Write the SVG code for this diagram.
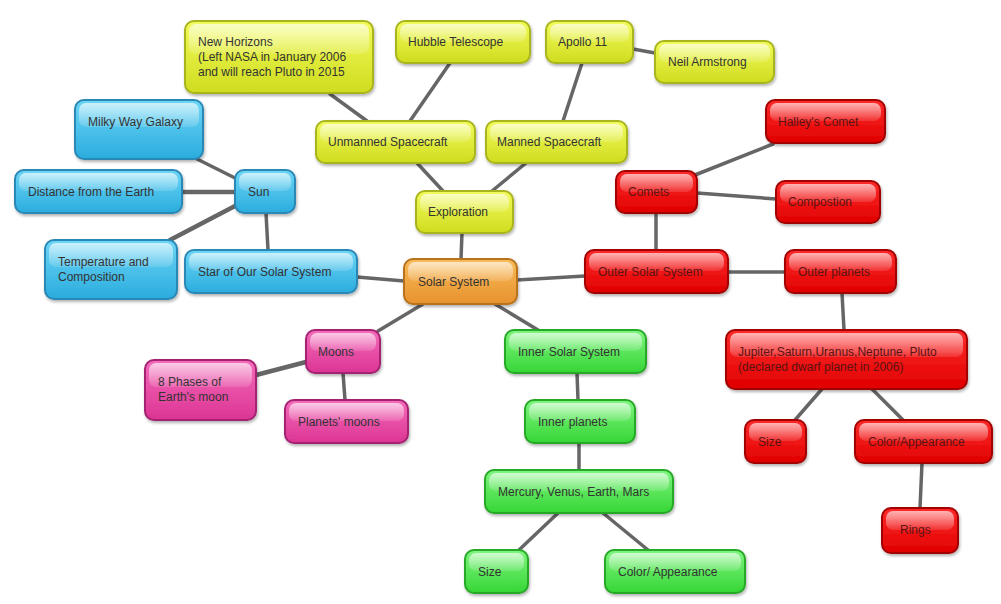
<svg xmlns="http://www.w3.org/2000/svg" width="1001" height="604" viewBox="0 0 1001 604">
<defs>
<linearGradient id="gY" x1="0" y1="0" x2="0" y2="1"><stop offset="0" stop-color="#f2fb5c"/><stop offset="1" stop-color="#cfdc1e"/></linearGradient>
<linearGradient id="gB" x1="0" y1="0" x2="0" y2="1"><stop offset="0" stop-color="#6ed6f6"/><stop offset="1" stop-color="#2aacde"/></linearGradient>
<linearGradient id="gR" x1="0" y1="0" x2="0" y2="1"><stop offset="0" stop-color="#ff2a2a"/><stop offset="1" stop-color="#e00000"/></linearGradient>
<linearGradient id="gO" x1="0" y1="0" x2="0" y2="1"><stop offset="0" stop-color="#f8bb5a"/><stop offset="1" stop-color="#e8922e"/></linearGradient>
<linearGradient id="gG" x1="0" y1="0" x2="0" y2="1"><stop offset="0" stop-color="#7ff57f"/><stop offset="1" stop-color="#36d636"/></linearGradient>
<linearGradient id="gP" x1="0" y1="0" x2="0" y2="1"><stop offset="0" stop-color="#f46cba"/><stop offset="1" stop-color="#dc3494"/></linearGradient>
<linearGradient id="gH" x1="0" y1="0" x2="0" y2="1"><stop offset="0" stop-color="#fff" stop-opacity="0.65"/><stop offset="1" stop-color="#fff" stop-opacity="0.12"/></linearGradient>
<filter id="sh" x="-10%" y="-10%" width="125%" height="135%"><feDropShadow dx="1" dy="2" stdDeviation="1.5" flood-color="#000" flood-opacity="0.3"/></filter>
</defs>
<style>
.n rect.b{stroke-width:2;filter:url(#sh)}
.y rect.b{fill:url(#gY);stroke:#a9b51c}
.bl rect.b{fill:url(#gB);stroke:#2a88b6}
.r rect.b{fill:url(#gR);stroke:#a30000}
.o rect.b{fill:url(#gO);stroke:#b8731f}
.g rect.b{fill:url(#gG);stroke:#27a927}
.p rect.b{fill:url(#gP);stroke:#a52272}
rect.h{fill:url(#gH)}
text{font-family:"Liberation Sans",Arial,sans-serif;font-size:12px;fill:#333}
.r text{fill:#5a1414}
#links line{stroke:#666;stroke-width:3.5;stroke-linecap:round}
</style>
<rect width="1001" height="604" fill="#fff"/>
<g id="links">
<line x1="330" y1="94" x2="367" y2="121"/>
<line x1="450" y1="63" x2="410" y2="121"/>
<line x1="417" y1="163" x2="443" y2="191"/>
<line x1="526" y1="163" x2="492" y2="191"/>
<line x1="582" y1="63" x2="563" y2="121"/>
<line x1="633" y1="49" x2="655" y2="53"/>
<line x1="462" y1="233" x2="461" y2="259"/>
<line x1="197" y1="159" x2="235" y2="178"/>
<line x1="182" y1="192" x2="235" y2="192" style="stroke-width:4.5"/>
<line x1="170" y1="240" x2="235" y2="206" style="stroke-width:4.5"/>
<line x1="266" y1="213" x2="268" y2="250"/>
<line x1="357" y1="277" x2="404" y2="281"/>
<line x1="517" y1="280" x2="585" y2="276"/>
<line x1="423" y1="304" x2="378" y2="331"/>
<line x1="495" y1="304" x2="538" y2="330"/>
<line x1="306" y1="362" x2="256" y2="375" style="stroke-width:4.5"/>
<line x1="343" y1="373" x2="345" y2="400"/>
<line x1="577" y1="373" x2="578" y2="400"/>
<line x1="579" y1="443" x2="579" y2="470"/>
<line x1="558" y1="513" x2="519" y2="550"/>
<line x1="603" y1="513" x2="648" y2="550"/>
<line x1="656" y1="213" x2="656" y2="250"/>
<line x1="695" y1="175" x2="773" y2="144"/>
<line x1="697" y1="193" x2="776" y2="199"/>
<line x1="728" y1="272" x2="785" y2="272"/>
<line x1="842" y1="293" x2="844" y2="330"/>
<line x1="822" y1="389" x2="795" y2="420"/>
<line x1="872" y1="389" x2="903" y2="420"/>
<line x1="922" y1="463" x2="920" y2="508"/>
</g>

<g id="new-horizons" class="n y"><rect class="b" x="185" y="21" width="188" height="72" rx="9"/><rect class="h" x="189" y="24" width="180" height="30" rx="7"/><text x="198" y="46">New Horizons</text><text x="198" y="61">(Left NASA in January 2006</text><text x="198" y="76">and will reach Pluto in 2015</text></g>
<g id="hubble" class="n y"><rect class="b" x="396" y="21" width="134" height="42" rx="9"/><rect class="h" x="400" y="24" width="126" height="18" rx="7"/><text x="408" y="46">Hubble Telescope</text></g>
<g id="apollo" class="n y"><rect class="b" x="546" y="21" width="87" height="42" rx="9"/><rect class="h" x="550" y="24" width="79" height="18" rx="7"/><text x="558" y="46">Apollo 11</text></g>
<g id="neil" class="n y"><rect class="b" x="655" y="41" width="119" height="42" rx="9"/><rect class="h" x="659" y="44" width="111" height="18" rx="7"/><text x="668" y="66">Neil Armstrong</text></g>
<g id="unmanned" class="n y"><rect class="b" x="316" y="121" width="159" height="42" rx="9"/><rect class="h" x="320" y="124" width="151" height="18" rx="7"/><text x="328" y="146">Unmanned Spacecraft</text></g>
<g id="manned" class="n y"><rect class="b" x="486" y="121" width="141" height="42" rx="9"/><rect class="h" x="490" y="124" width="133" height="18" rx="7"/><text x="497" y="146">Manned Spacecraft</text></g>
<g id="exploration" class="n y"><rect class="b" x="416" y="191" width="97" height="42" rx="9"/><rect class="h" x="420" y="194" width="89" height="18" rx="7"/><text x="428" y="216">Exploration</text></g>

<g id="milky-way" class="n bl"><rect class="b" x="75" y="100" width="128" height="59" rx="9"/><rect class="h" x="79" y="103" width="120" height="24" rx="7"/><text x="88" y="126">Milky Way Galaxy</text></g>
<g id="distance" class="n bl"><rect class="b" x="15" y="170" width="167" height="43" rx="9"/><rect class="h" x="19" y="173" width="159" height="18" rx="7"/><text x="28" y="196">Distance from the Earth</text></g>
<g id="sun" class="n bl"><rect class="b" x="235" y="170" width="60" height="43" rx="9"/><rect class="h" x="239" y="173" width="52" height="18" rx="7"/><text x="248" y="196">Sun</text></g>
<g id="temperature" class="n bl"><rect class="b" x="45" y="240" width="132" height="59" rx="9"/><rect class="h" x="49" y="243" width="124" height="24" rx="7"/><text x="58" y="266">Temperature and</text><text x="58" y="281">Composition</text></g>
<g id="star" class="n bl"><rect class="b" x="185" y="250" width="172" height="43" rx="9"/><rect class="h" x="189" y="253" width="164" height="18" rx="7"/><text x="198" y="276">Star of Our Solar System</text></g>

<g id="solar-system" class="n o"><rect class="b" x="404" y="259" width="113" height="45" rx="9"/><rect class="h" x="408" y="262" width="105" height="19" rx="7"/><text x="418" y="286">Solar System</text></g>

<g id="moons" class="n p"><rect class="b" x="306" y="330" width="74" height="43" rx="9"/><rect class="h" x="310" y="333" width="66" height="18" rx="7"/><text x="318" y="356">Moons</text></g>
<g id="phases" class="n p"><rect class="b" x="145" y="360" width="111" height="60" rx="9"/><rect class="h" x="149" y="363" width="103" height="24" rx="7"/><text x="158" y="386">8 Phases of</text><text x="158" y="401">Earth's moon</text></g>
<g id="planets-moons" class="n p"><rect class="b" x="285" y="400" width="123" height="43" rx="9"/><rect class="h" x="289" y="403" width="115" height="18" rx="7"/><text x="298" y="426">Planets' moons</text></g>

<g id="inner-solar" class="n g"><rect class="b" x="505" y="330" width="141" height="43" rx="9"/><rect class="h" x="509" y="333" width="133" height="18" rx="7"/><text x="518" y="356">Inner Solar System</text></g>
<g id="inner-planets" class="n g"><rect class="b" x="525" y="400" width="110" height="43" rx="9"/><rect class="h" x="529" y="403" width="102" height="18" rx="7"/><text x="538" y="426">Inner planets</text></g>
<g id="mercury" class="n g"><rect class="b" x="485" y="470" width="188" height="43" rx="9"/><rect class="h" x="489" y="473" width="180" height="18" rx="7"/><text x="498" y="496">Mercury, Venus, Earth, Mars</text></g>
<g id="size-inner" class="n g"><rect class="b" x="465" y="550" width="63" height="43" rx="9"/><rect class="h" x="469" y="553" width="55" height="18" rx="7"/><text x="478" y="576">Size</text></g>
<g id="color-inner" class="n g"><rect class="b" x="605" y="550" width="140" height="43" rx="9"/><rect class="h" x="609" y="553" width="132" height="18" rx="7"/><text x="618" y="576">Color/ Appearance</text></g>

<g id="halley" class="n r"><rect class="b" x="766" y="100" width="119" height="43" rx="9"/><rect class="h" x="770" y="103" width="111" height="18" rx="7"/><text x="778" y="126">Halley's Comet</text></g>
<g id="comets" class="n r"><rect class="b" x="616" y="171" width="81" height="42" rx="9"/><rect class="h" x="620" y="174" width="73" height="18" rx="7"/><text x="628" y="196">Comets</text></g>
<g id="compostion" class="n r"><rect class="b" x="776" y="181" width="104" height="42" rx="9"/><rect class="h" x="780" y="184" width="96" height="18" rx="7"/><text x="788" y="206">Compostion</text></g>
<g id="outer-solar" class="n r"><rect class="b" x="585" y="250" width="143" height="43" rx="9"/><rect class="h" x="589" y="253" width="135" height="18" rx="7"/><text x="598" y="276">Outer Solar System</text></g>
<g id="outer-planets" class="n r"><rect class="b" x="785" y="250" width="111" height="43" rx="9"/><rect class="h" x="789" y="253" width="103" height="18" rx="7"/><text x="798" y="276">Outer planets</text></g>
<g id="jupiter" class="n r"><rect class="b" x="726" y="330" width="241" height="59" rx="9"/><rect class="h" x="730" y="333" width="233" height="24" rx="7"/><text x="738" y="356">Jupiter,Saturn,Uranus,Neptune, Pluto</text><text x="738" y="371">(declared dwarf planet in 2006)</text></g>
<g id="size-outer" class="n r"><rect class="b" x="745" y="420" width="61" height="43" rx="9"/><rect class="h" x="749" y="423" width="53" height="18" rx="7"/><text x="758" y="446">Size</text></g>
<g id="color-outer" class="n r"><rect class="b" x="855" y="420" width="137" height="43" rx="9"/><rect class="h" x="859" y="423" width="129" height="18" rx="7"/><text x="868" y="446">Color/Appearance</text></g>
<g id="rings" class="n r"><rect class="b" x="882" y="508" width="76" height="45" rx="9"/><rect class="h" x="886" y="511" width="68" height="19" rx="7"/><text x="900" y="534">Rings</text></g>
</svg>
